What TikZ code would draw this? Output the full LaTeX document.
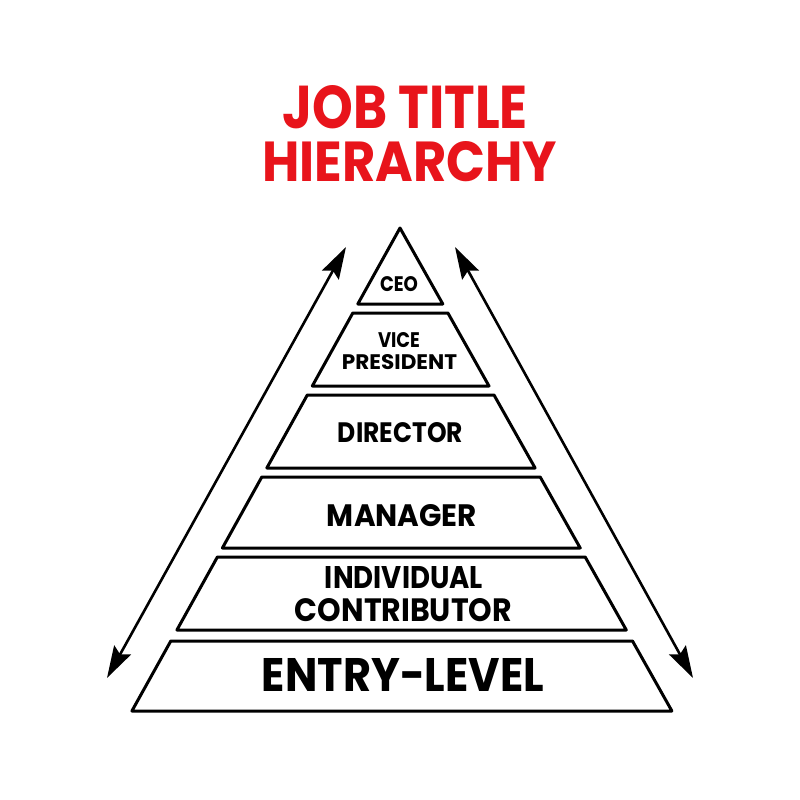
\documentclass[tikz,border=0pt]{standalone}
\usepackage{fontspec}
\setmainfont{Poppins}
\usepackage{graphicx}
\usetikzlibrary{arrows.meta}
\definecolor{titlered}{RGB}{232,20,27}
\newcommand{\nodepth}[1]{\raisebox{0pt}[\height][0pt]{#1}}
\begin{document}
\begin{tikzpicture}[x=1pt,y=-1pt,
  layer/.style={draw=black,line width=3pt,line join=round,fill=white},
  lbl/.style={inner sep=0pt,text=black,font=\bfseries},
  ttl/.style={inner sep=0pt,text=titlered,font=\bfseries},
  dbl/.style={line width=2.6pt,{Stealth[length=32pt,width=19pt,inset=5pt]}-{Stealth[length=32pt,width=19pt,inset=5pt]}}]
\useasboundingbox[fill=white] (0,0) rectangle (800,800);
% title
\node[ttl] (t1) at (405.5,107) {\nodepth{\resizebox{245pt}{43pt}{JOB TITLE}}};
\node[ttl] (t2) at (409.5,161) {\nodepth{\resizebox{295pt}{40pt}{HIERARCHY}}};
% arrows
\coordinate (lt) at (346,247); \coordinate (lb) at (107,678);
\coordinate (rt) at (455,247); \coordinate (rb) at (693,678);
\draw[dbl] (lt) -- (lb);
\draw[dbl] (rt) -- (rb);
% layers
\draw[layer] (400,228) -- (442.8,304) -- (357.8,304) -- cycle;
\draw[layer] (352.8,313) -- (447.9,313) -- (489.0,386) -- (312.3,386) -- cycle;
\draw[layer] (307.3,395) -- (494.0,395) -- (535.1,468) -- (266.8,468) -- cycle;
\draw[layer] (261.8,477) -- (540.2,477) -- (580.2,548) -- (222.4,548) -- cycle;
\draw[layer] (217.4,557) -- (585.2,557) -- (626.3,630) -- (176.9,630) -- cycle;
\draw[layer] (170.8,641) -- (632.5,641) -- (671.9,711) -- (131.9,711) -- cycle;
% labels
\node[lbl] (ceo) at (399,284.5) {\resizebox{38pt}{15pt}{CEO}};
\node[lbl] (vp1) at (399,340) {\resizebox{42pt}{15pt}{VICE}};
\node[lbl] (vp2) at (399.5,362) {\resizebox{115pt}{15pt}{PRESIDENT}};
\node[lbl] (dir) at (400.5,433) {\resizebox{125pt}{20pt}{DIRECTOR}};
\node[lbl] (man) at (402,516) {\resizebox{150pt}{22pt}{MANAGER}};
\node[lbl] (ic1) at (404,578) {\resizebox{158pt}{22pt}{INDIVIDUAL}};
\node[lbl] (ic2) at (403.5,610.5) {\resizebox{217pt}{23pt}{CONTRIBUTOR}};
\node[lbl] (ent) at (403,674.5) {\resizebox{282pt}{33pt}{ENTRY-LEVEL}};
\end{tikzpicture}
\end{document}
